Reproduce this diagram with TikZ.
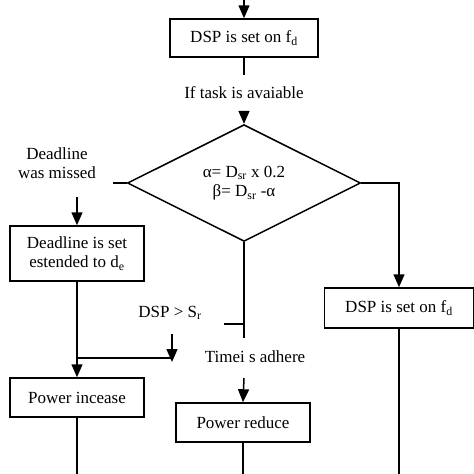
\documentclass[tikz,border=0pt]{standalone}
\usepackage{fontspec}
\setmainfont{Liberation Serif}
\usetikzlibrary{shapes.geometric,arrows.meta}

\tikzset{
   stepbox/.style={draw,line width=1.5pt,inner sep=0pt,align=center},
   decision/.style={draw,diamond,line width=1.5pt,inner sep=0pt,align=center,
      minimum width=233pt,minimum height=91pt},
   flow/.style={line width=1.5pt},
   flowarrow/.style={line width=1.5pt,-{Triangle[length=13pt,width=11pt]}},
   label/.style={align=center,inner sep=0pt}
}

\begin{document}
\begin{tikzpicture}[x=1pt,y=-1pt,font=\fontsize{17}{19.5}\selectfont]
            \useasboundingbox (0,0) rectangle (474,474);

            \node [stepbox,minimum width=148pt,minimum height=38pt] (setfd) at (244,38) {DSP is set on f\textsubscript{d}};
            \node [label] (avail) at (244,93) {If task is avaiable};
            \node [decision] (cond) at (244,183) {α= D\textsubscript{sr} x 0.2\\β= D\textsubscript{sr} -α};
            \node [label] (missed) at (57,163) {Deadline\\was missed};
            \node [stepbox,minimum width=134pt,minimum height=55pt] (extend) at (77,253.5) {Deadline is set\\estended to d\textsubscript{e}};
            \node [stepbox,minimum width=149pt,minimum height=40pt] (setfdr) at (399,308) {DSP is set on f\textsubscript{d}};
            \node [label] (dspgt) at (170,313) {DSP > S\textsubscript{r}};
            \node [label] (adhere) at (255,357) {Timei s adhere};
            \node [stepbox,minimum width=134pt,minimum height=39pt] (incr) at (77,397.5) {Power incease};
            \node [stepbox,minimum width=134pt,minimum height=39pt] (reduce) at (243,422.5) {Power reduce};

            \coordinate (start) at (244,0);
            \coordinate (availtop) at (244,75);
            \coordinate (availbot) at (244,115);
            \coordinate (stub) at (113,183);
            \coordinate (missedbot) at (77,197);
            \coordinate (condend) at (244,338);
            \coordinate (tick) at (224,324);
            \coordinate (tickend) at (244,324);
            \coordinate (adherebot) at (244,378);
            \coordinate (branch) at (77,358);
            \coordinate (branchend) at (172,358);
            \coordinate (droptop) at (172,334);
            \coordinate (dropend) at (172,362);

            \draw [flowarrow] (start) -- (setfd.north);
            \draw [flow] (setfd.south) -- (availtop);
            \draw [flowarrow] (availbot) -- (cond.north);
            \draw [flow] (cond.west) -- (stub);
            \draw [flowarrow] (missedbot) -- (extend.north);
            \draw [flowarrow] (cond.east) -| (setfdr.north);
            \draw [flow] (setfdr.south) -- (setfdr.south |- 0,474);
            \draw [flow] (cond.south) -- (condend);
            \draw [flow] (tick) -- (tickend);
            \draw [flowarrow] (adherebot) -- (reduce.north);
            \draw [flow] (reduce.south) -- (reduce.south |- 0,474);
            \draw [flowarrow] (extend.south) -- (incr.north);
            \draw [flow] (branch) -- (branchend);
            \draw [flowarrow] (droptop) -- (dropend);
            \draw [flow] (incr.south) -- (incr.south |- 0,474);
         \end{tikzpicture}
\end{document}
